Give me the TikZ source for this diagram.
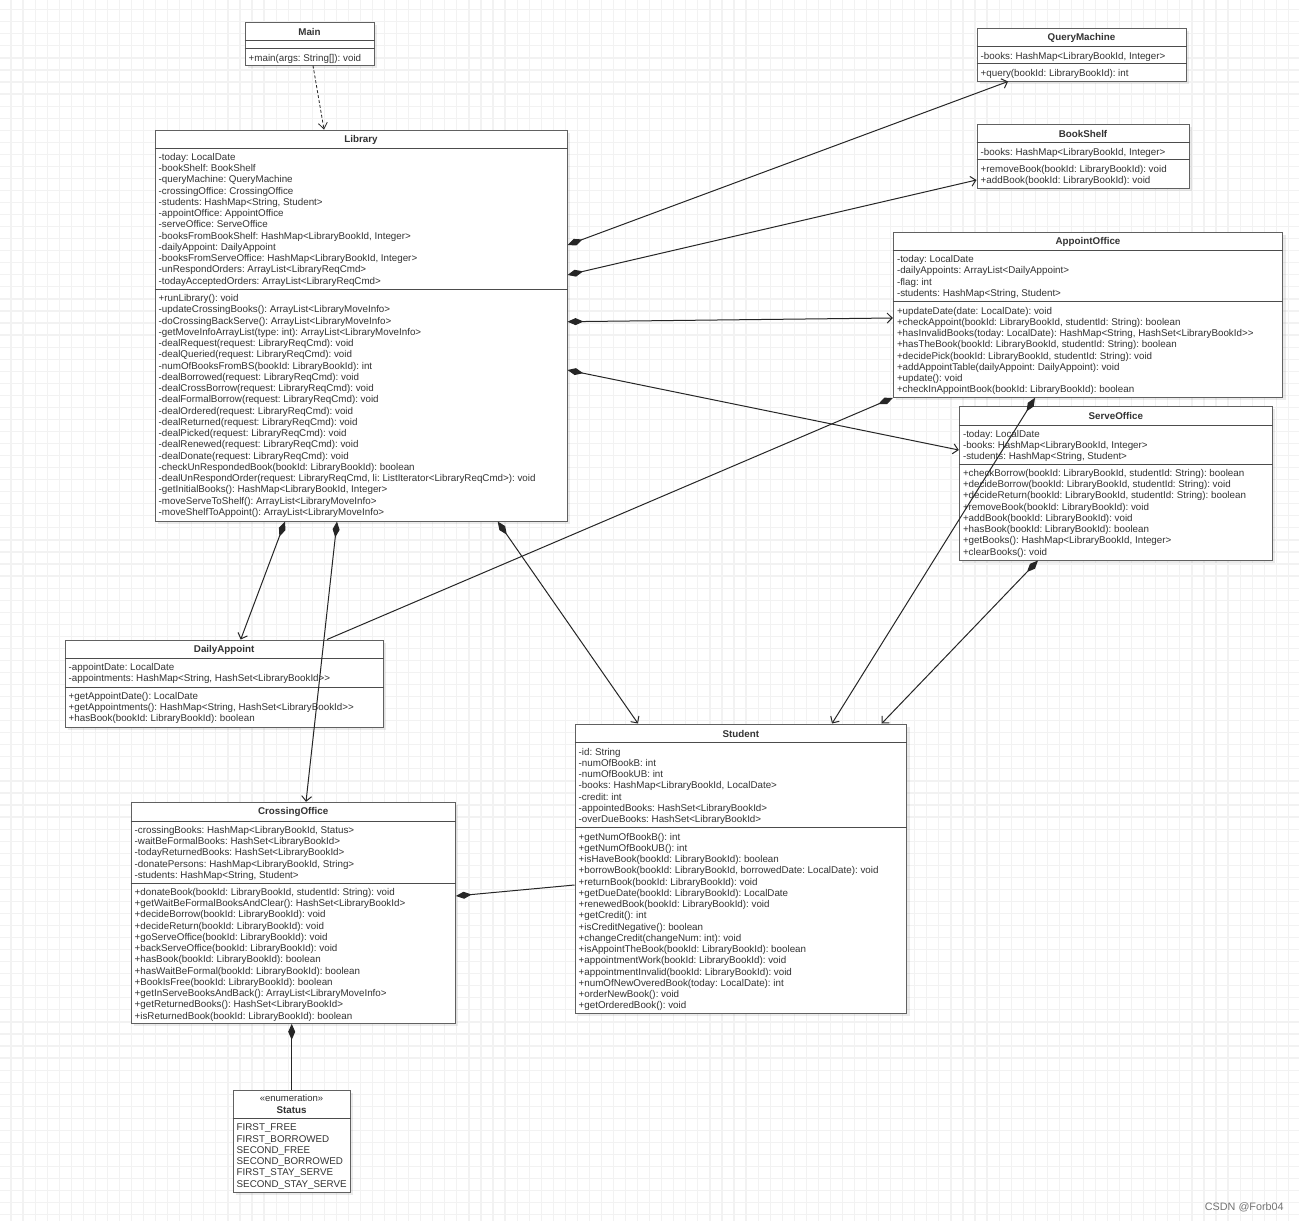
\documentclass[tikz,border=0pt]{standalone}
\usepackage{fontspec}
\setmainfont{Liberation Sans}
\usetikzlibrary{calc,fit,shadows,arrows.meta}

\tikzset{
  gridline/.style={line width=1.2pt,black!5},
  classbox/.style={draw=black!62,line width=1pt,fill=white,inner sep=0pt,
    drop shadow={shadow xshift=3pt,shadow yshift=-3pt,opacity=.08,fill=black}},
  classline/.style={black!70,line width=0.9pt},
  classtitle/.style={inner sep=0pt,font=\fontsize{9.8}{11}\selectfont\bfseries,text=black!80},
  classtext/.style={anchor=north west,align=left,inner xsep=0pt,inner ysep=5pt,
    font=\fontsize{9.8}{11.25}\selectfont\frenchspacing,text=black!80,execute at begin node=\strut},
  comp/.style={line width=1pt,black!85,{Diamond[length=16pt,width=7pt]}-{Straight Barb[length=5pt,width=10pt]}},
  complain/.style={line width=1pt,black!85,{Diamond[length=16pt,width=7pt]}-},
  depend/.style={line width=0.8pt,black!85,dashed,dash pattern=on 3pt off 2pt,-{Straight Barb[length=6pt,width=9pt]}}
}

% name, north west, south east, two separators, attributes, operations
\newcommand{\umlclass}[7]{
  \node[classbox,fit={(#2) (#3)}] (#1) {};
  \draw[classline] (#1.west |- 0,#4) -- (#1.east |- 0,#4);
  \draw[classline] (#1.west |- 0,#5) -- (#1.east |- 0,#5);
  \node[classtitle,yshift=-1pt] (#1Title) at ($(#1.north)!0.5!(#1.north |- 0,#4)$) {#1};
  \node[classtext] (#1Attrs) at ([xshift=4pt]#1.west |- 0,#4) {#6};
  \node[classtext] (#1Ops) at ([xshift=4pt]#1.west |- 0,#5) {#7};
}

\begin{document}
\begin{tikzpicture}[x=1pt,y=-1pt]
  \useasboundingbox (0,0) rectangle (1299,1221);
  \fill[white] (0,0) rectangle (1299,1221);
  \foreach \x in {11,23.05,...,1299}
    \draw[gridline] (\x,0) -- (\x,1221);
  \foreach \y in {9.7,21.75,...,1221}
    \draw[gridline] (0,\y) -- (1299,\y);

  \umlclass{Main}{245,22}{374,65}{40}{48}{}{+main(args: String[]): void}

  \umlclass{QueryMachine}{977,28}{1186,81}{46.7}{63.7}
    {-books: HashMap<LibraryBookId, Integer>}
    {+query(bookId: LibraryBookId): int}

  \umlclass{BookShelf}{977,124}{1189,188}{142.3}{159.7}
    {-books: HashMap<LibraryBookId, Integer>}
    {+removeBook(bookId: LibraryBookId): void\\
     +addBook(bookId: LibraryBookId): void}

  \umlclass{Library}{155,130}{567,521}{148}{289.3}
    {-today: LocalDate\\
     -bookShelf: BookShelf\\
     -queryMachine: QueryMachine\\
     -crossingOffice: CrossingOffice\\
     -students: HashMap<String, Student>\\
     -appointOffice: AppointOffice\\
     -serveOffice: ServeOffice\\
     -booksFromBookShelf: HashMap<LibraryBookId, Integer>\\
     -dailyAppoint: DailyAppoint\\
     -booksFromServeOffice: HashMap<LibraryBookId, Integer>\\
     -unRespondOrders: ArrayList<LibraryReqCmd>\\
     -todayAcceptedOrders: ArrayList<LibraryReqCmd>}
    {+runLibrary(): void\\
     -updateCrossingBooks(): ArrayList<LibraryMoveInfo>\\
     -doCrossingBackServe(): ArrayList<LibraryMoveInfo>\\
     -getMoveInfoArrayList(type: int): ArrayList<LibraryMoveInfo>\\
     -dealRequest(request: LibraryReqCmd): void\\
     -dealQueried(request: LibraryReqCmd): void\\
     -numOfBooksFromBS(bookId: LibraryBookId): int\\
     -dealBorrowed(request: LibraryReqCmd): void\\
     -dealCrossBorrow(request: LibraryReqCmd): void\\
     -dealFormalBorrow(request: LibraryReqCmd): void\\
     -dealOrdered(request: LibraryReqCmd): void\\
     -dealReturned(request: LibraryReqCmd): void\\
     -dealPicked(request: LibraryReqCmd): void\\
     -dealRenewed(request: LibraryReqCmd): void\\
     -dealDonate(request: LibraryReqCmd): void\\
     -checkUnRespondedBook(bookId: LibraryBookId): boolean\\
     -dealUnRespondOrder(request: LibraryReqCmd, li: ListIterator<LibraryReqCmd>): void\\
     -getInitialBooks(): HashMap<LibraryBookId, Integer>\\
     -moveServeToShelf(): ArrayList<LibraryMoveInfo>\\
     -moveShelfToAppoint(): ArrayList<LibraryMoveInfo>}

  \umlclass{AppointOffice}{893.3,232.3}{1282.7,397.3}{250.3}{301.7}
    {-today: LocalDate\\
     -dailyAppoints: ArrayList<DailyAppoint>\\
     -flag: int\\
     -students: HashMap<String, Student>}
    {+updateDate(date: LocalDate): void\\
     +checkAppoint(bookId: LibraryBookId, studentId: String): boolean\\
     +hasInvalidBooks(today: LocalDate): HashMap<String, HashSet<LibraryBookId>{}>\\
     +hasTheBook(bookId: LibraryBookId, studentId: String): boolean\\
     +decidePick(bookId: LibraryBookId, studentId: String): void\\
     +addAppointTable(dailyAppoint: DailyAppoint): void\\
     +update(): void\\
     +checkInAppointBook(bookId: LibraryBookId): boolean}

  \umlclass{ServeOffice}{959.3,406.3}{1272.3,560}{425}{464}
    {-today: LocalDate\\
     -books: HashMap<LibraryBookId, Integer>\\
     -students: HashMap<String, Student>}
    {+checkBorrow(bookId: LibraryBookId, studentId: String): boolean\\
     +decideBorrow(bookId: LibraryBookId, studentId: String): void\\
     +decideReturn(bookId: LibraryBookId, studentId: String): boolean\\
     +removeBook(bookId: LibraryBookId): void\\
     +addBook(bookId: LibraryBookId): void\\
     +hasBook(bookId: LibraryBookId): boolean\\
     +getBooks(): HashMap<LibraryBookId, Integer>\\
     +clearBooks(): void}

  \umlclass{DailyAppoint}{65,640}{383.3,727}{658.3}{687}
    {-appointDate: LocalDate\\
     -appointments: HashMap<String, HashSet<LibraryBookId>{}>}
    {+getAppointDate(): LocalDate\\
     +getAppointments(): HashMap<String, HashSet<LibraryBookId>{}>\\
     +hasBook(bookId: LibraryBookId): boolean}

  \umlclass{Student}{575,724}{906.7,1013.3}{742.7}{827.7}
    {-id: String\\
     -numOfBookB: int\\
     -numOfBookUB: int\\
     -books: HashMap<LibraryBookId, LocalDate>\\
     -credit: int\\
     -appointedBooks: HashSet<LibraryBookId>\\
     -overDueBooks: HashSet<LibraryBookId>}
    {+getNumOfBookB(): int\\
     +getNumOfBookUB(): int\\
     +isHaveBook(bookId: LibraryBookId): boolean\\
     +borrowBook(bookId: LibraryBookId, borrowedDate: LocalDate): void\\
     +returnBook(bookId: LibraryBookId): void\\
     +getDueDate(bookId: LibraryBookId): LocalDate\\
     +renewedBook(bookId: LibraryBookId): void\\
     +getCredit(): int\\
     +isCreditNegative(): boolean\\
     +changeCredit(changeNum: int): void\\
     +isAppointTheBook(bookId: LibraryBookId): boolean\\
     +appointmentWork(bookId: LibraryBookId): void\\
     +appointmentInvalid(bookId: LibraryBookId): void\\
     +numOfNewOveredBook(today: LocalDate): int\\
     +orderNewBook(): void\\
     +getOrderedBook(): void}

  \umlclass{CrossingOffice}{131,802.3}{455.3,1023.3}{821}{883}
    {-crossingBooks: HashMap<LibraryBookId, Status>\\
     -waitBeFormalBooks: HashSet<LibraryBookId>\\
     -todayReturnedBooks: HashSet<LibraryBookId>\\
     -donatePersons: HashMap<LibraryBookId, String>\\
     -students: HashMap<String, Student>}
    {+donateBook(bookId: LibraryBookId, studentId: String): void\\
     +getWaitBeFormalBooksAndClear(): HashSet<LibraryBookId>\\
     +decideBorrow(bookId: LibraryBookId): void\\
     +decideReturn(bookId: LibraryBookId): void\\
     +goServeOffice(bookId: LibraryBookId): void\\
     +backServeOffice(bookId: LibraryBookId): void\\
     +hasBook(bookId: LibraryBookId): boolean\\
     +hasWaitBeFormal(bookId: LibraryBookId): boolean\\
     +BookIsFree(bookId: LibraryBookId): boolean\\
     +getInServeBooksAndBack(): ArrayList<LibraryMoveInfo>\\
     +getReturnedBooks(): HashSet<LibraryBookId>\\
     +isReturnedBook(bookId: LibraryBookId): boolean}

  % the enumeration has one separator only
  \node[classbox,fit={(233,1090) (350,1192)}] (Status) {};
  \draw[classline] (Status.west |- 0,1118.7) -- (Status.east |- 0,1118.7);
  \node[inner sep=0pt,font=\fontsize{9.5}{11}\selectfont,text=black!80] (StatusKind) at (Status.north |- 0,1097.7) {«enumeration»};
  \node[classtitle] (StatusTitle) at (Status.north |- 0,1110) {Status};
  \node[classtext] (StatusItems) at ([xshift=4pt]Status.west |- 0,1118.7)
    {FIRST\_FREE\\
     FIRST\_BORROWED\\
     SECOND\_FREE\\
     SECOND\_BORROWED\\
     FIRST\_STAY\_SERVE\\
     SECOND\_STAY\_SERVE};

  \draw[depend] (Main.south -| 313,0) -- (Library.north -| 324,0);
  \draw[comp] (Library.east |- 0,245) -- (QueryMachine.south -| 1008,0);
  \draw[comp] (Library.east |- 0,275) -- (BookShelf.west |- 0,180);
  \draw[comp] (Library.east |- 0,321.7) -- (AppointOffice.west |- 0,318);
  \draw[comp] (Library.east |- 0,370) -- (ServeOffice.west |- 0,450);
  \draw[comp] (Library.south -| 285,0) -- (DailyAppoint.north -| 240.7,0);
  \draw[comp] (Library.south -| 337,0) -- (CrossingOffice.north -| 306,0);
  \draw[comp] (Library.south -| 497.7,0) -- (Student.north -| 638,0);
  \draw[complain] (AppointOffice.south -| 893,0) -- (DailyAppoint.north -| 327,0);
  \draw[comp] (AppointOffice.south -| 1035,0) -- (Student.north -| 832,0);
  \draw[comp] (ServeOffice.south -| 1038,0) -- (Student.north -| 881.7,0);
  \draw[complain] (CrossingOffice.east |- 0,896) -- (Student.west |- 0,885);
  \draw[complain] (CrossingOffice.south -| 291.7,0) -- (Status.north -| 291.7,0);

  \node[inner sep=0pt,font=\fontsize{10.8}{12}\selectfont,text=black!55] (Mark) at (1244.3,1207.5) {CSDN @Forb04};
\end{tikzpicture}
\end{document}
